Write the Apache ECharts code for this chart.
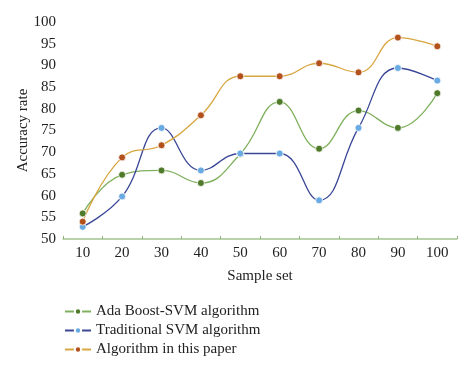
<!DOCTYPE html>
<html lang="en">
<head>
    <meta charset="UTF-8">
    <title>Accuracy rate</title>
    <script src="https://cdn.jsdelivr.net/npm/echarts@6.0.0/dist/echarts.min.js"></script>
    <style>
        html, body {
            margin: 0;
            padding: 0;
            background: #fff;
        }
        #main {
            width: 474px;
            height: 374px;
        }
    </style>
</head>
<body>
<div id="main"></div>
<script type="text/javascript">
    var sampleSets = ['10', '20', '30', '40', '50', '60', '70', '80', '90', '100'];
    var adaBoostSvm = [55.9, 64.8, 65.8, 62.9, 69.6, 81.6, 70.8, 79.6, 75.6, 83.6];
    var traditionalSvm = [52.8, 59.8, 75.6, 65.8, 69.7, 69.7, 58.9, 75.6, 89.4, 86.5];
    var thisPaper = [54.0, 68.8, 71.6, 78.5, 87.5, 87.5, 90.5, 88.4, 96.4, 94.4];
    var seriesNames = ['Ada Boost-SVM algorithm', 'Traditional SVM algorithm', 'Algorithm in this paper'];

    var serif = '"Liberation Serif", "DejaVu Serif", serif';

    var myChart = echarts.init(document.getElementById('main'), null, {renderer: 'canvas'});

    function makeSeries(name, data, lineColor, dotColor) {
        return {
            name: name,
            type: 'line',
            data: data,
            smooth: 0.45,
            symbol: 'circle',
            symbolSize: 7,
            lineStyle: {color: lineColor, width: 1.3},
            itemStyle: {color: dotColor, borderColor: '#fff', borderWidth: 0.8},
            emphasis: {disabled: true}
        };
    }

    var option = {
        backgroundColor: '#fff',
        animation: false,
        textStyle: {fontFamily: serif},
        grid: {
            left: 63,
            right: 17,
            top: 22,
            bottom: 135,
            containLabel: false
        },
        legend: {
            orient: 'vertical',
            left: 59,
            top: 299,
            itemWidth: 26,
            itemHeight: 8,
            itemGap: 4,
            textStyle: {fontFamily: serif, fontSize: 15, color: '#222'},
            data: seriesNames
        },
        xAxis: {
            type: 'category',
            data: sampleSets,
            boundaryGap: true,
            name: 'Sample set',
            nameLocation: 'middle',
            nameGap: 30,
            nameTextStyle: {fontFamily: serif, fontSize: 15, color: '#222'},
            axisLine: {show: true, lineStyle: {color: '#a3c48f', width: 1.5}},
            axisTick: {show: true, inside: true, length: 3, lineStyle: {color: '#8fb37a'}},
            axisLabel: {fontFamily: serif, fontSize: 15, color: '#222', margin: 7}
        },
        yAxis: {
            type: 'value',
            min: 50,
            max: 100,
            interval: 5,
            name: 'Accuracy rate',
            nameLocation: 'middle',
            nameGap: 32,
            nameMoveOverlap: false,
            nameTextStyle: {fontFamily: serif, fontSize: 15, color: '#222'},
            axisLine: {show: false},
            axisTick: {show: false},
            splitLine: {show: false},
            axisLabel: {fontFamily: serif, fontSize: 15, color: '#222', margin: 7}
        },
        series: [
            makeSeries(seriesNames[0], adaBoostSvm, '#7fb05c', '#4f7a2a'),
            makeSeries(seriesNames[1], traditionalSvm, '#3a4796', '#6aaae2'),
            makeSeries(seriesNames[2], thisPaper, '#d8a640', '#b3511d')
        ]
    };

    myChart.setOption(option);
</script>
</body>
</html>
